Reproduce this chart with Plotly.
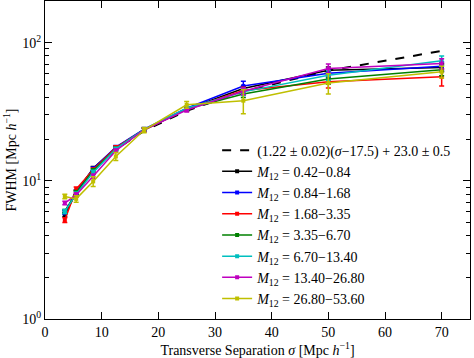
import plotly.graph_objects as go

sigma = [3.5, 5.5, 8.5, 12.5, 17.5, 25, 35, 50, 70]

fit_line = [5.92, 8.36, 12.02, 16.9, 23.0, 32.15, 44.35, 62.65, 87.05]

labels = ["0.42\u22120.84", "0.84\u22121.68", "1.68\u22123.35", "3.35\u22126.70",
          "6.70\u221213.40", "13.40\u221226.80", "26.80\u221253.60"]

fwhm_k = [5.7, 8.2, 12.3, 17.3, 23.5, 33.0, 46.5, 63.0, 66.0]
fwhm_b = [5.9, 8.3, 12.2, 17.5, 23.6, 33.5, 48.5, 60.0, 67.5]
fwhm_r = [5.2, 8.7, 12.0, 17.4, 23.3, 33.0, 45.0, 52.0, 56.5]
fwhm_g = [6.0, 8.2, 11.8, 17.0, 23.4, 33.0, 42.5, 54.5, 63.5]
fwhm_c = [6.0, 8.0, 11.5, 17.0, 23.5, 33.5, 44.0, 58.0, 74.0]
fwhm_m = [6.9, 7.9, 10.8, 16.5, 23.4, 32.5, 44.5, 65.0, 70.5]
fwhm_y = [7.7, 7.4, 9.9, 15.0, 23.3, 35.5, 38.0, 51.0, 61.5]

err_k = [0.2, 0.3, 0.4, 0.5, 0.7, 1.0, 2.0, 3.5, 4.5]
err_b = [0.2, 0.3, 0.4, 0.5, 0.7, 1.0, 4.0, 4.0, 5.0]
err_r = [0.2, 0.3, 0.4, 0.5, 0.7, 1.0, 2.5, 5.0, 8.0]
err_g = [0.2, 0.3, 0.4, 0.5, 0.7, 1.0, 2.5, 4.5, 6.0]
err_c = [0.2, 0.3, 0.4, 0.5, 0.7, 1.0, 2.5, 4.5, 6.0]
err_m = [0.2, 0.3, 0.4, 0.5, 0.7, 1.0, 2.5, 5.0, 6.0]
err_y = [0.3, 0.4, 0.8, 1.0, 1.0, 2.0, 7.5, 8.5, 6.0]

series = [fwhm_k, fwhm_b, fwhm_r, fwhm_g, fwhm_c, fwhm_m, fwhm_y]
errors = [err_k, err_b, err_r, err_g, err_c, err_m, err_y]
colors = ["#000000", "#0000ff", "#ff0000", "#008000", "#00bfbf", "#bf00bf", "#bfbf00"]

FONT = "Liberation Serif"

fig = go.Figure()
fig.add_trace(go.Scatter(
    x=sigma, y=fit_line, mode="lines",
    line=dict(color="black", width=2, dash="dash"),
    name="(1.22 \u00b1 0.02)(<i>\u03c3</i>\u221217.5) + 23.0 \u00b1 0.5",
))
for vals, errs, col, lab in zip(series, errors, colors, labels):
    fig.add_trace(go.Scatter(
        x=sigma, y=vals, mode="lines+markers",
        line=dict(color=col, width=1.5),
        marker=dict(symbol="square", size=4, color=col),
        error_y=dict(type="data", array=errs, color=col, thickness=1.5, width=2.5),
        name="<i>M</i><sub>12</sub> = " + lab,
    ))

axis_common = dict(
    showline=True, linecolor="black", linewidth=1.2, mirror="allticks",
    ticks="inside", tickcolor="black", ticklen=7, tickwidth=1,
    showgrid=False, zeroline=False, automargin=False,
    tickfont=dict(family=FONT, size=14, color="black"),
)

fig.update_layout(
    width=474, height=358,
    margin=dict(l=45, r=4, t=1, b=39),
    paper_bgcolor="white", plot_bgcolor="white",
    font=dict(family=FONT, size=14, color="black"),
    showlegend=True,
    legend=dict(
        x=0.405, y=0.58, xanchor="left", yanchor="top",
        bgcolor="rgba(0,0,0,0)", borderwidth=0,
        font=dict(family=FONT, size=14, color="black"),
        tracegroupgap=0,
    ),
    xaxis=dict(
        range=[0, 75], tickvals=[0, 10, 20, 30, 40, 50, 60, 70],
        title=dict(text="Transverse Separation <i>\u03c3</i> [Mpc <i>h</i><sup>\u22121</sup>]",
                   font=dict(family=FONT, size=14), standoff=2),
        **axis_common,
    ),
    yaxis=dict(
        type="log", range=[0, 2.301],
        tickvals=[1, 10, 100],
        ticktext=["10<sup>0</sup>", "10<sup>1</sup>", "10<sup>2</sup>"],
        title=dict(text="FWHM [Mpc <i>h</i><sup>\u22121</sup>]",
                   font=dict(family=FONT, size=14), standoff=2),
        minor=dict(ticks="inside", ticklen=4, tickcolor="black",
                   tickvals=[2, 3, 4, 5, 6, 7, 8, 9, 20, 30, 40, 50, 60, 70, 80, 90, 200],
                   showgrid=False),
        **axis_common,
    ),
)

fig.write_html("out.html", config={"displayModeBar": False},
               post_script="document.body.style.margin='0';")
